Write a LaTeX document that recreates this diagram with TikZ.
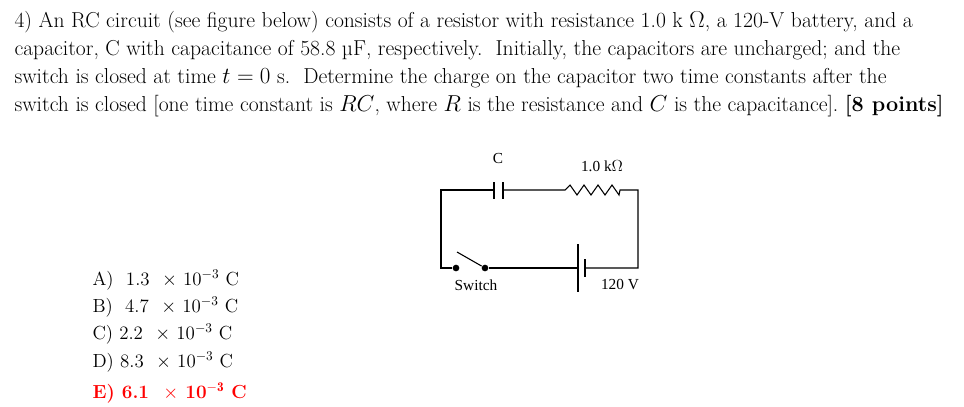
\documentclass[tikz,border=0pt]{standalone}
\usepackage{fontspec}
\newfontfamily\circfont{Liberation Serif}
\begin{document}
\begin{tikzpicture}[x=0.75pt,y=-0.75pt,line width=0.8pt,
 txt/.style={anchor=west,inner sep=0pt,font=\fontsize{16.2}{18}\selectfont},
 ans/.style={anchor=west,inner sep=0pt,font=\fontsize{14.2}{16}\selectfont},
 clab/.style={inner sep=0pt,font=\circfont\fontsize{11.5}{13}\selectfont},
 dot/.style={circle,fill=black,inner sep=0pt,minimum size=5pt}]
\useasboundingbox (0,0) rectangle (964,407);
\node[txt] (l1) at (14,22) {4) An RC circuit (see figure below) consists of a resistor with resistance 1.0 k $\Omega$, a 120-V battery, and a};
\node[txt] (l2) at (14,50) {capacitor, C with capacitance of 58.8 µF, respectively.\ \ Initially, the capacitors are uncharged; and the};
\node[txt] (l3) at (14,78) {switch is closed at time $t=0$ s.\ \ Determine the charge on the capacitor two time constants after the};
\node[txt] (l4) at (14,106) {switch is closed [one time constant is $RC$, where $R$ is the resistance and $C$ is the capacitance].\ \textbf{[8 points]}};
% circuit
\coordinate (tl) at (441,190); \coordinate (tr) at (638,190);
\coordinate (bl) at (441,268); \coordinate (br) at (638,268);
\coordinate (c1) at (494,190); \coordinate (c2) at (503,190);
\coordinate (r1) at (565,190); \coordinate (r2) at (620,190);
\node[dot] (s1) at (456,268) {}; \node[dot] (s2) at (485,268) {};
\coordinate (b1) at (578,268); \coordinate (b2) at (585,268);
\draw (s1) -- (bl) -- (tl) -- (c1);
\draw[line width=1.2pt] (494,182) -- (494,199) (503,182) -- (503,199);
\draw (c2) -- (r1) -- ++(5,-5) -- ++(7,10) -- ++(7,-10) -- ++(7,10) -- ++(7,-10) -- ++(7,10) -- ++(7,-10) -- ++(7,10) -- (r2) -- (tr) -- (br) -- (b2);
\draw[line width=1.2pt] (585,259) -- (585,277);
\draw (578,244) -- (578,292);
\draw (b1) -- (s2);
\draw (s2) -- (457,252);
\node[clab] (lc) at (498,158) {C};
\node[clab] (lr) at (602,166) {1.0 k$\Omega$};
\node[clab] (ls) at (476,285) {Switch};
\node[clab] (lv) at (620,285) {120 V};
% answers
\node[ans] (a) at (92,280) {A)\ \ 1.3\ \ $\times$ 10$^{-3}$ C};
\node[ans] (b) at (92,307) {B)\ \ 4.7\ \ $\times$ 10$^{-3}$ C};
\node[ans] (c) at (92,334) {C) 2.2\ \ $\times$ 10$^{-3}$ C};
\node[ans] (d) at (92,362) {D) 8.3\ \ $\times$ 10$^{-3}$ C};
\node[ans,text=red,font=\bfseries\fontsize{14.2}{16}\selectfont] (e) at (92,393) {E) 6.1\ \ $\times$ 10$^{\mathbf{-3}}$ C};
\end{tikzpicture}
\end{document}
